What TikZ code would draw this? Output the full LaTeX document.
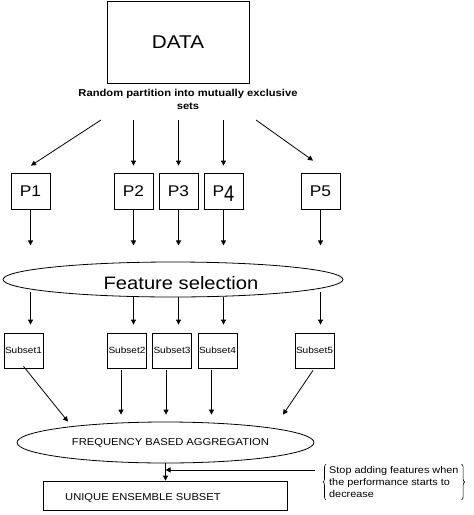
\documentclass[tikz,border=0pt]{standalone}
\usepackage{fontspec}
\setmainfont{Liberation Sans}[FakeStretch=1.12]
\usetikzlibrary{arrows.meta,shapes.geometric,decorations.pathreplacing,calc}
\tikzset{
  pbox/.style={draw, line width=0.8pt, minimum width=39pt, minimum height=36pt, inner sep=0pt, font=\fontsize{15.5}{15.5}\selectfont},
  sbox/.style={draw, line width=0.8pt, minimum width=39pt, minimum height=35pt, inner sep=0pt, font=\fontsize{9}{9}\selectfont},
  oval/.style={draw, ellipse, line width=0.8pt, inner sep=0pt},
  arr/.style={-{Triangle[length=5pt,width=5pt]}, line width=0.8pt},
  brc/.style={decorate, decoration={brace, amplitude=3pt}, line width=0.6pt},
}
\begin{document}
\begin{tikzpicture}[x=1pt,y=-1pt]
\useasboundingbox[fill=white] (0,0) rectangle (474,515);
% top box and label
\node[draw, line width=0.9pt, minimum width=142pt, minimum height=82pt, inner sep=0pt, font=\fontsize{18.5}{18.5}\selectfont] (data) at (178,42) {DATA};
\node[font=\bfseries\fontsize{10}{13}\selectfont, align=center, inner sep=0pt] (lab) at (188,99.5) {Random partition into mutually exclusive\\sets};
% partitions
\node[pbox] (P1) at (30.5,191) {P1};
\node[pbox] (P2) at (133.5,191) {P2};
\node[pbox] (P3) at (178.5,191) {P3};
\node[pbox] (P4) at (223.5,191) {P\raisebox{-5pt}[0pt][0pt]{\scalebox{1.05}[1.45]{4}}};
\node[pbox] (P5) at (320.5,191) {P5};
\coordinate (s1) at (101,120);
\coordinate (s2) at (133.5,120);
\coordinate (s3) at (178.5,120);
\coordinate (s4) at (223.5,120);
\coordinate (s5) at (256,120);
\draw[arr] (s1) -- ($(P1.north)+(0.5,-7)$);
\draw[arr, shorten >=7pt] (s2) -- (P2.north);
\draw[arr, shorten >=7pt] (s3) -- (P3.north);
\draw[arr, shorten >=7pt] (s4) -- (P4.north);
\draw[arr] (s5) -- ($(P5.north)+(-7.5,-12)$);
\foreach \p in {P1,P2,P3,P4,P5} \draw[arr] (\p.south) -- ++(0,36);
% feature selection
\node[oval, minimum width=340pt, minimum height=35pt] (fs) at (173,279.5) {};
\node[font=\fontsize{18}{18}\selectfont, inner sep=0pt] (fst) at (181,283) {Feature selection};
% subsets
\node[sbox] (sub1) at (23.5,350.5) {Subset1};
\node[sbox] (sub2) at (127,350.5) {Subset2};
\node[sbox] (sub3) at (172,350.5) {Subset3};
\node[sbox] (sub4) at (217.5,350.5) {Subset4};
\node[sbox] (sub5) at (314.5,350.5) {Subset5};
\draw[arr, shorten <=-5pt, shorten >=8pt] (fs.south -| P1) -- (sub1.north -| P1);
\draw[arr, shorten >=8pt] (fs.south -| P2) -- (sub2.north -| P2);
\draw[arr, shorten >=8pt] (fs.south -| P3) -- (sub3.north -| P3);
\draw[arr, shorten >=8pt] (fs.south -| P4) -- (sub4.north -| P4);
\draw[arr, shorten <=-5pt, shorten >=8pt] (fs.south -| P5) -- (sub5.north -| P5);
% aggregation
\node[oval, minimum width=297pt, minimum height=41pt] (fa) at (165.5,442.5) {};
\node[font=\fontsize{10}{10}\selectfont, inner sep=0pt] (fat) at (170.5,442.5) {FREQUENCY BASED AGGREGATION};
\draw[arr] ([yshift=2pt]sub1.south) -- ($(fa.north)+(-97.5,0)$);
\draw[arr, shorten >=7pt] ([shift={(-6,2)}]sub2.south) -- ([xshift=-6pt]sub2.south |- fa.north);
\draw[arr, shorten >=7pt] ([shift={(-6,2)}]sub3.south) -- ([xshift=-6pt]sub3.south |- fa.north);
\draw[arr, shorten >=7pt] ([shift={(-6,2)}]sub4.south) -- ([xshift=-6pt]sub4.south |- fa.north);
\draw[arr] ([shift={(-1.5,2)}]sub5.south) -- ($(fa.north)+(117.5,-7)$);
% unique subset
\node[draw, line width=0.8pt, minimum width=244pt, minimum height=29pt, inner sep=0pt] (uq) at (165,495.5) {};
\node[font=\fontsize{10}{10}\selectfont, inner sep=0pt, anchor=west] (uqt) at (65,497.5) {UNIQUE ENSEMBLE SUBSET};
\draw[arr] (fa.south) -- (fa.south |- uq.north);
\coordinate (j) at ($(fa.south)+(0,6.5)$);
% note
\node[font=\fontsize{9.7}{12}\selectfont, align=left, inner sep=0pt, anchor=west] (note) at (329,482) {Stop adding features when\\the performance starts to\\decrease};
\draw[brc] ($(note.south west)+(-3,2)$) -- ($(note.north west)+(-3,-2)$);
\draw[brc] ($(note.north east)+(3,-2)$) -- ($(note.south east)+(3,2)$);
\coordinate (nb) at ($(note.west)+(-14,0)$);
\draw[arr] (nb |- j) -- (j);
\end{tikzpicture}
\end{document}
